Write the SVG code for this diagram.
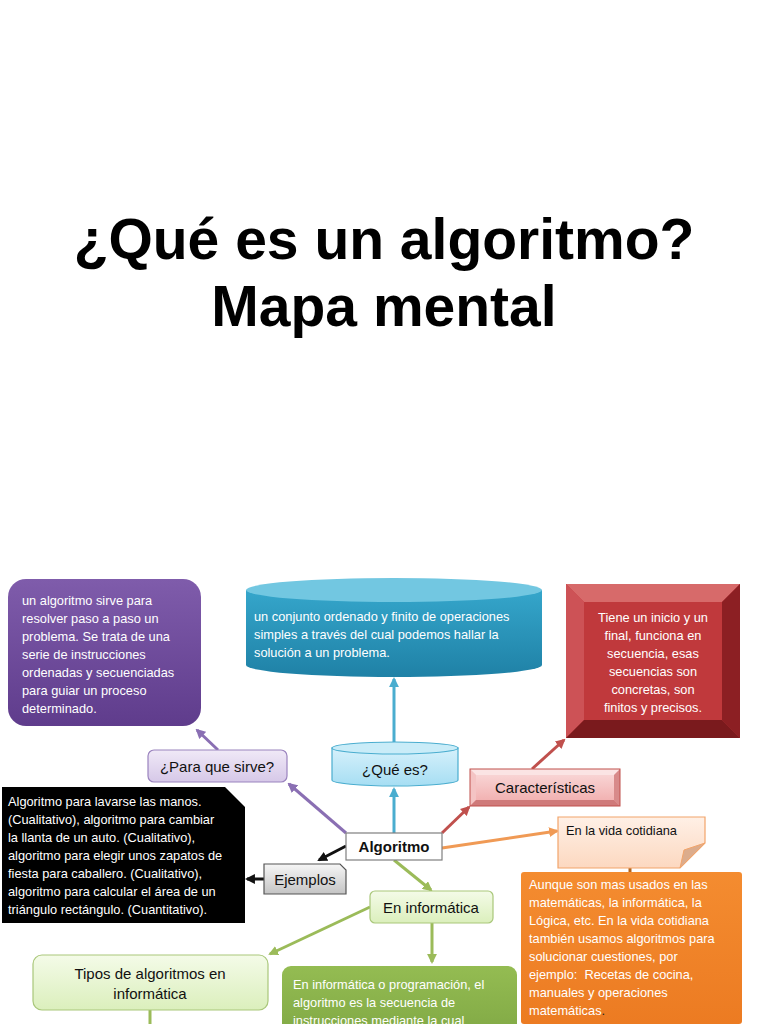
<svg xmlns="http://www.w3.org/2000/svg" width="768" height="1024" viewBox="0 0 768 1024">
<defs>
<style>
.title{font-family:"Liberation Sans",Arial,sans-serif;font-weight:bold;font-size:57px;fill:#000;text-anchor:middle}
.w{font-family:"Liberation Sans",Arial,sans-serif;font-size:12.8px;fill:#fff}
.lbl{font-family:"Liberation Sans",Arial,sans-serif;font-size:15px;fill:#111;text-anchor:middle}
.c{stroke-width:3;fill:none}
</style>
<linearGradient id="gPur" x1="0" y1="0" x2="0" y2="1"><stop offset="0" stop-color="#7f5cab"/><stop offset="1" stop-color="#5f3c8c"/></linearGradient>
<linearGradient id="gCyl" x1="0" y1="0" x2="0" y2="1"><stop offset="0" stop-color="#35a6cb"/><stop offset="1" stop-color="#1f81a6"/></linearGradient>
<linearGradient id="gLav" x1="0" y1="0" x2="0" y2="1"><stop offset="0" stop-color="#f0e9f7"/><stop offset="1" stop-color="#d6c8e8"/></linearGradient>
<linearGradient id="gLcy" x1="0" y1="0" x2="0" y2="1"><stop offset="0" stop-color="#d6f1fb"/><stop offset="1" stop-color="#a6def3"/></linearGradient>
<linearGradient id="gPink" x1="0" y1="0" x2="0" y2="1"><stop offset="0" stop-color="#fadcdc"/><stop offset="1" stop-color="#f0aaaa"/></linearGradient>
<linearGradient id="gGray" x1="0" y1="0" x2="0" y2="1"><stop offset="0" stop-color="#f6f6f6"/><stop offset="1" stop-color="#c4c4c4"/></linearGradient>
<linearGradient id="gLgr" x1="0" y1="0" x2="0" y2="1"><stop offset="0" stop-color="#f4fbe8"/><stop offset="1" stop-color="#dbefbc"/></linearGradient>
<linearGradient id="gGrn" x1="0" y1="0" x2="0" y2="1"><stop offset="0" stop-color="#94bc52"/><stop offset="1" stop-color="#7ea643"/></linearGradient>
<linearGradient id="gPeach" x1="0" y1="0" x2="0" y2="1"><stop offset="0" stop-color="#fff0e6"/><stop offset="1" stop-color="#fcd8c0"/></linearGradient>
<linearGradient id="gOr" x1="0" y1="0" x2="0" y2="1"><stop offset="0" stop-color="#f48c30"/><stop offset="1" stop-color="#ec7b22"/></linearGradient>
<marker id="mCy" viewBox="0 0 10 10" refX="8" refY="5" markerWidth="3.3" markerHeight="3.3" orient="auto"><path d="M0 0L10 5L0 10Z" fill="#4aadcf"/></marker>
<marker id="mPu" viewBox="0 0 10 10" refX="8" refY="5" markerWidth="3.3" markerHeight="3.3" orient="auto"><path d="M0 0L10 5L0 10Z" fill="#8a6fb3"/></marker>
<marker id="mRd" viewBox="0 0 10 10" refX="8" refY="5" markerWidth="3.3" markerHeight="3.3" orient="auto"><path d="M0 0L10 5L0 10Z" fill="#c0504d"/></marker>
<marker id="mOr" viewBox="0 0 10 10" refX="8" refY="5" markerWidth="3.3" markerHeight="3.3" orient="auto"><path d="M0 0L10 5L0 10Z" fill="#f09a55"/></marker>
<marker id="mBk" viewBox="0 0 10 10" refX="8" refY="5" markerWidth="3.3" markerHeight="3.3" orient="auto"><path d="M0 0L10 5L0 10Z" fill="#111"/></marker>
<marker id="mGr" viewBox="0 0 10 10" refX="8" refY="5" markerWidth="3.3" markerHeight="3.3" orient="auto"><path d="M0 0L10 5L0 10Z" fill="#9bbb59"/></marker>
</defs>
<rect width="768" height="1024" fill="#fff"/>

<g id="title">
<text class="title" x="384" y="259">¿Qué es un algoritmo?</text>
<text class="title" x="384" y="326">Mapa mental</text>
</g>

<g id="connectors">
<line class="c" stroke="#4aadcf" x1="394" y1="833" x2="394" y2="789" marker-end="url(#mCy)"/>
<line class="c" stroke="#4aadcf" x1="394" y1="742" x2="394" y2="679" marker-end="url(#mCy)"/>
<line class="c" stroke="#8a6fb3" x1="346" y1="833" x2="289" y2="784" marker-end="url(#mPu)"/>
<line class="c" stroke="#8a6fb3" x1="218" y1="750" x2="197" y2="730" marker-end="url(#mPu)"/>
<line class="c" stroke="#c0504d" x1="442" y1="833" x2="469" y2="807" marker-end="url(#mRd)"/>
<line class="c" stroke="#c0504d" x1="532" y1="769" x2="564" y2="740" marker-end="url(#mRd)"/>
<line class="c" stroke="#f09a55" x1="442" y1="848" x2="557" y2="831" marker-end="url(#mOr)"/>
<line class="c" stroke="#b5651d" x1="630" y1="866" x2="630" y2="872"/>
<line class="c" stroke="#111" x1="346" y1="846" x2="319" y2="860" marker-end="url(#mBk)"/>
<line class="c" stroke="#111" x1="264" y1="879" x2="247" y2="879" marker-end="url(#mBk)"/>
<line class="c" stroke="#9bbb59" x1="394" y1="860" x2="431" y2="890" marker-end="url(#mGr)"/>
<line class="c" stroke="#9bbb59" x1="370" y1="907" x2="270" y2="954" marker-end="url(#mGr)"/>
<line class="c" stroke="#9bbb59" x1="432" y1="923" x2="432" y2="962" marker-end="url(#mGr)"/>
<line class="c" stroke="#9bbb59" x1="150" y1="1010" x2="150" y2="1024"/>
</g>

<g id="para-que-sirve-texto">
<rect x="8" y="579" width="193" height="147" rx="18" fill="url(#gPur)"/>
<text class="w" x="22" y="605">un algoritmo sirve para</text>
<text class="w" x="22" y="623">resolver paso a paso un</text>
<text class="w" x="22" y="641">problema. Se trata de una</text>
<text class="w" x="22" y="659">serie de instrucciones</text>
<text class="w" x="22" y="677">ordenadas y secuenciadas</text>
<text class="w" x="22" y="695">para guiar un proceso</text>
<text class="w" x="22" y="713">determinado.</text>
</g>

<g id="que-es-texto">
<path d="M246 590 L246 665 A148 12 0 0 0 542 665 L542 590 Z" fill="url(#gCyl)"/>
<ellipse cx="394" cy="590" rx="148" ry="12" fill="#72c7e1"/>
<text class="w" x="254" y="621">un conjunto ordenado y finito de operaciones</text>
<text class="w" x="254" y="639">simples a través del cual podemos hallar la</text>
<text class="w" x="254" y="657">solución a un problema.</text>
</g>

<g id="caracteristicas-texto">
<rect x="566" y="584" width="174" height="154" fill="#c0393c"/>
<path d="M566 584 L740 584 L722 602 L584 602 Z" fill="#d76a6a"/>
<path d="M566 584 L584 602 L584 720 L566 738 Z" fill="#cd5256"/>
<path d="M740 584 L740 738 L722 720 L722 602 Z" fill="#8c1f23"/>
<path d="M566 738 L740 738 L722 720 L584 720 Z" fill="#7a1a1d"/>
<g text-anchor="middle">
<text class="w" x="653" y="622">Tiene un inicio y un</text>
<text class="w" x="653" y="640">final, funciona en</text>
<text class="w" x="653" y="658">secuencia, esas</text>
<text class="w" x="653" y="676">secuencias son</text>
<text class="w" x="653" y="694">concretas, son</text>
<text class="w" x="653" y="712">finitos y precisos.</text>
</g>
</g>

<g id="para-que-sirve">
<rect x="148" y="750" width="139" height="32" rx="6" fill="url(#gLav)" stroke="#9a83be" stroke-width="1.2"/>
<text class="lbl" x="217" y="772">¿Para que sirve?</text>
</g>

<g id="que-es">
<path d="M332 748 L332 780 A63 6 0 0 0 458 780 L458 748 Z" fill="url(#gLcy)" stroke="#4aadcf" stroke-width="1.2"/>
<ellipse cx="395" cy="748" rx="63" ry="6" fill="#c9ecf8" stroke="#4aadcf" stroke-width="1.2"/>
<text class="lbl" x="395" y="775">¿Qué es?</text>
</g>

<g id="caracteristicas">
<rect x="470" y="769" width="150" height="37" fill="url(#gPink)"/>
<path d="M470 769 L620 769 L614 775 L476 775 Z" fill="#fbe4e4"/>
<path d="M470 769 L476 775 L476 800 L470 806 Z" fill="#f4c4c4"/>
<path d="M620 769 L620 806 L614 800 L614 775 Z" fill="#d88a8a"/>
<path d="M470 806 L620 806 L614 800 L476 800 Z" fill="#cf7a7a"/>
<rect x="470" y="769" width="150" height="37" fill="none" stroke="#c0504d" stroke-width="1"/>
<text class="lbl" x="545" y="793">Características</text>
</g>

<g id="algoritmo">
<rect x="346" y="833" width="96" height="27" fill="#fff" stroke="#7f7f7f" stroke-width="1.2"/>
<text class="lbl" x="394" y="852" font-weight="bold">Algoritmo</text>
</g>

<g id="vida-cotidiana">
<path d="M558 817 L705 817 L705 843 L680 868 L558 868 Z" fill="url(#gPeach)" stroke="#f2a46a" stroke-width="1.2"/>
<path d="M705 843 L684 850 L680 868 Z" fill="#dcac8c" stroke="#f2a46a" stroke-width="1"/>
<text x="566" y="835" font-family="Liberation Sans, Arial, sans-serif" font-size="12.8" fill="#111">En la vida cotidiana</text>
</g>

<g id="vida-cotidiana-texto">
<rect x="521" y="872" width="221" height="152" rx="3" fill="url(#gOr)"/>
<text class="w" x="529" y="889">Aunque son mas usados en las</text>
<text class="w" x="529" y="907">matemáticas, la informática, la</text>
<text class="w" x="529" y="925">Lógica, etc. En la vida cotidiana</text>
<text class="w" x="529" y="943">también usamos algoritmos para</text>
<text class="w" x="529" y="961">solucionar cuestiones, por</text>
<text class="w" x="529" y="979">ejemplo:&#160; Recetas de cocina,</text>
<text class="w" x="529" y="997">manuales y operaciones</text>
<text class="w" x="529" y="1015">matemáticas<tspan fill="#222">.</tspan></text>
</g>

<g id="ejemplos-texto">
<path d="M2 787 L225 787 L245 807 L245 923 L2 923 Z" fill="#000"/>
<text class="w" x="8" y="806">Algoritmo para lavarse las manos.</text>
<text class="w" x="8" y="824">(Cualitativo), algoritmo para cambiar</text>
<text class="w" x="8" y="842">la llanta de un auto. (Cualitativo),</text>
<text class="w" x="8" y="860">algoritmo para elegir unos zapatos de</text>
<text class="w" x="8" y="878">fiesta para caballero. (Cualitativo),</text>
<text class="w" x="8" y="896">algoritmo para calcular el área de un</text>
<text class="w" x="8" y="914">triángulo rectángulo. (Cuantitativo).</text>
</g>

<g id="ejemplos">
<path d="M264 864 L340 864 L346 870 L346 894 L264 894 Z" fill="url(#gGray)" stroke="#555" stroke-width="1.2"/>
<text class="lbl" x="305" y="885">Ejemplos</text>
</g>

<g id="en-informatica">
<rect x="370" y="891" width="123" height="32" rx="5" fill="url(#gLgr)" stroke="#a9c77a" stroke-width="1.2"/>
<text class="lbl" x="431" y="913">En informática</text>
</g>

<g id="tipos">
<rect x="33" y="955" width="235" height="55" rx="9" fill="url(#gLgr)" stroke="#a9c77a" stroke-width="1.2"/>
<text class="lbl" x="150" y="979">Tipos de algoritmos en</text>
<text class="lbl" x="150" y="999">informática</text>
</g>

<g id="informatica-texto">
<rect x="282" y="966" width="235" height="80" rx="9" fill="url(#gGrn)"/>
<text class="w" x="293" y="989">En informática o programación, el</text>
<text class="w" x="293" y="1007">algoritmo es la secuencia de</text>
<text class="w" x="293" y="1025">instrucciones mediante la cual</text>
</g>
</svg>
